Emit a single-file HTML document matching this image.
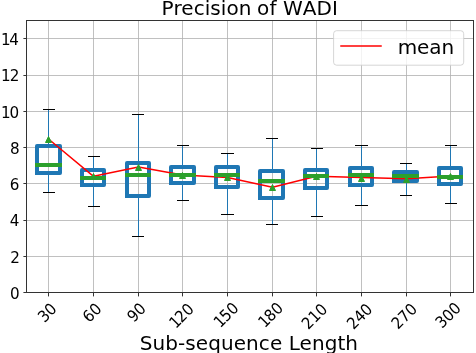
<!DOCTYPE html><html><head><meta charset="utf-8"><title>Precision of WADI</title><style>html,body{margin:0;padding:0;background:#fff}body{width:476px;height:353px;overflow:hidden}</style></head><body><svg width="476" height="353" viewBox="0 0 476 353" style="display:block" font-family="DejaVu Sans, Liberation Sans, sans-serif">
<rect width="476" height="353" fill="#fff"/>
<g stroke="#b0b0b0" stroke-opacity="0.8" stroke-width="1" shape-rendering="crispEdges">
<line x1="48.5" y1="20.5" x2="48.5" y2="292.5"/>
<line x1="93.5" y1="20.5" x2="93.5" y2="292.5"/>
<line x1="138.5" y1="20.5" x2="138.5" y2="292.5"/>
<line x1="182.5" y1="20.5" x2="182.5" y2="292.5"/>
<line x1="227.5" y1="20.5" x2="227.5" y2="292.5"/>
<line x1="272.5" y1="20.5" x2="272.5" y2="292.5"/>
<line x1="316.5" y1="20.5" x2="316.5" y2="292.5"/>
<line x1="361.5" y1="20.5" x2="361.5" y2="292.5"/>
<line x1="406.5" y1="20.5" x2="406.5" y2="292.5"/>
<line x1="450.5" y1="20.5" x2="450.5" y2="292.5"/>
<line x1="26.5" y1="292.5" x2="473.5" y2="292.5"/>
<line x1="26.5" y1="256.5" x2="473.5" y2="256.5"/>
<line x1="26.5" y1="220.5" x2="473.5" y2="220.5"/>
<line x1="26.5" y1="183.5" x2="473.5" y2="183.5"/>
<line x1="26.5" y1="147.5" x2="473.5" y2="147.5"/>
<line x1="26.5" y1="111.5" x2="473.5" y2="111.5"/>
<line x1="26.5" y1="75.5" x2="473.5" y2="75.5"/>
<line x1="26.5" y1="38.5" x2="473.5" y2="38.5"/>
</g>
<g fill="none" stroke="#1f77b4" stroke-width="4" stroke-linejoin="round" stroke-linecap="square">
<path d="M37 173H60V146H37V173"/>
<path d="M82 185H104V170H82V185"/>
<path d="M127 196H149V163H127V196"/>
<path d="M171 183H194V167H171V183"/>
<path d="M216 187H238V167H216V187"/>
<path d="M260 198H283V171H260V198"/>
<path d="M305 188H327V170H305V188"/>
<path d="M350 185H372V168H350V185"/>
<path d="M394 181H417V172H394V181"/>
<path d="M439 184H461V168H439V184"/>
</g>
<g stroke="#1f77b4" stroke-width="1" shape-rendering="crispEdges">
<line x1="48.5" y1="109.5" x2="48.5" y2="146"/>
<line x1="48.5" y1="173" x2="48.5" y2="192.5"/>
<line x1="93.5" y1="156.5" x2="93.5" y2="170"/>
<line x1="93.5" y1="185" x2="93.5" y2="206.5"/>
<line x1="138.5" y1="114.5" x2="138.5" y2="163"/>
<line x1="138.5" y1="196" x2="138.5" y2="236.5"/>
<line x1="182.5" y1="145.5" x2="182.5" y2="167"/>
<line x1="182.5" y1="183" x2="182.5" y2="200.5"/>
<line x1="227.5" y1="153.5" x2="227.5" y2="167"/>
<line x1="227.5" y1="187" x2="227.5" y2="214.5"/>
<line x1="272.5" y1="138.5" x2="272.5" y2="171"/>
<line x1="272.5" y1="198" x2="272.5" y2="224.5"/>
<line x1="316.5" y1="148.5" x2="316.5" y2="170"/>
<line x1="316.5" y1="188" x2="316.5" y2="216.5"/>
<line x1="361.5" y1="145.5" x2="361.5" y2="168"/>
<line x1="361.5" y1="185" x2="361.5" y2="205.5"/>
<line x1="406.5" y1="163.5" x2="406.5" y2="172"/>
<line x1="406.5" y1="181" x2="406.5" y2="195.5"/>
<line x1="450.5" y1="145.5" x2="450.5" y2="168"/>
<line x1="450.5" y1="184" x2="450.5" y2="203.5"/>
</g>
<g stroke="#000" stroke-width="1" shape-rendering="crispEdges">
<line x1="43" y1="109.5" x2="55" y2="109.5"/>
<line x1="43" y1="192.5" x2="55" y2="192.5"/>
<line x1="88" y1="156.5" x2="100" y2="156.5"/>
<line x1="88" y1="206.5" x2="100" y2="206.5"/>
<line x1="132" y1="114.5" x2="144" y2="114.5"/>
<line x1="132" y1="236.5" x2="144" y2="236.5"/>
<line x1="177" y1="145.5" x2="189" y2="145.5"/>
<line x1="177" y1="200.5" x2="189" y2="200.5"/>
<line x1="221" y1="153.5" x2="234" y2="153.5"/>
<line x1="221" y1="214.5" x2="234" y2="214.5"/>
<line x1="266" y1="138.5" x2="278" y2="138.5"/>
<line x1="266" y1="224.5" x2="278" y2="224.5"/>
<line x1="311" y1="148.5" x2="323" y2="148.5"/>
<line x1="311" y1="216.5" x2="323" y2="216.5"/>
<line x1="355" y1="145.5" x2="368" y2="145.5"/>
<line x1="355" y1="205.5" x2="368" y2="205.5"/>
<line x1="400" y1="163.5" x2="412" y2="163.5"/>
<line x1="400" y1="195.5" x2="412" y2="195.5"/>
<line x1="445" y1="145.5" x2="457" y2="145.5"/>
<line x1="445" y1="203.5" x2="457" y2="203.5"/>
</g>
<polyline points="48.5,139.0 93.5,176.3 138.5,167.0 182.5,174.9 227.5,177.4 272.5,187.2 316.5,176.3 361.5,177.6 406.5,178.8 450.5,176.0" fill="none" stroke="#ff0000" stroke-width="1.5" stroke-linejoin="round" stroke-linecap="square"/>
<g stroke="#2ca02c" stroke-width="4" stroke-linecap="square">
<line x1="37" y1="165" x2="60" y2="165"/>
<line x1="82" y1="178" x2="104" y2="178"/>
<line x1="127" y1="175" x2="149" y2="175"/>
<line x1="171" y1="175" x2="194" y2="175"/>
<line x1="216" y1="175" x2="238" y2="175"/>
<line x1="260" y1="181" x2="283" y2="181"/>
<line x1="305" y1="176" x2="327" y2="176"/>
<line x1="350" y1="175" x2="372" y2="175"/>
<line x1="394" y1="176" x2="417" y2="176"/>
<line x1="439" y1="177" x2="461" y2="177"/>
</g>
<g fill="#2ca02c" stroke="#2ca02c" stroke-width="1" stroke-linejoin="miter">
<path d="M48.5 136.5L45.5 142.5H51.5Z"/>
<path d="M93.5 173.5L90.5 179.5H96.5Z"/>
<path d="M138.5 164.5L135.5 170.5H141.5Z"/>
<path d="M182.5 172.5L179.5 178.5H185.5Z"/>
<path d="M227.5 174.5L224.5 180.5H230.5Z"/>
<path d="M272.5 184.5L269.5 190.5H275.5Z"/>
<path d="M316.5 173.5L313.5 179.5H319.5Z"/>
<path d="M361.5 175.5L358.5 181.5H364.5Z"/>
<path d="M406.5 176.5L403.5 182.5H409.5Z"/>
<path d="M450.5 173.5L447.5 179.5H453.5Z"/>
</g>
<rect x="26.5" y="20.5" width="447.0" height="272.0" fill="none" stroke="#333" stroke-width="1" shape-rendering="crispEdges"/>
<g stroke="#333" stroke-width="1" shape-rendering="crispEdges">
<rect x="48" y="293.0" width="1" height="3.4" fill="#333" stroke="none" shape-rendering="geometricPrecision"/>
<rect x="93" y="293.0" width="1" height="3.4" fill="#333" stroke="none" shape-rendering="geometricPrecision"/>
<rect x="138" y="293.0" width="1" height="3.4" fill="#333" stroke="none" shape-rendering="geometricPrecision"/>
<rect x="182" y="293.0" width="1" height="3.4" fill="#333" stroke="none" shape-rendering="geometricPrecision"/>
<rect x="227" y="293.0" width="1" height="3.4" fill="#333" stroke="none" shape-rendering="geometricPrecision"/>
<rect x="272" y="293.0" width="1" height="3.4" fill="#333" stroke="none" shape-rendering="geometricPrecision"/>
<rect x="316" y="293.0" width="1" height="3.4" fill="#333" stroke="none" shape-rendering="geometricPrecision"/>
<rect x="361" y="293.0" width="1" height="3.4" fill="#333" stroke="none" shape-rendering="geometricPrecision"/>
<rect x="406" y="293.0" width="1" height="3.4" fill="#333" stroke="none" shape-rendering="geometricPrecision"/>
<rect x="450" y="293.0" width="1" height="3.4" fill="#333" stroke="none" shape-rendering="geometricPrecision"/>
<rect x="23.4" y="292" width="2.6" height="1" fill="#333" stroke="none" shape-rendering="geometricPrecision"/>
<rect x="23.4" y="256" width="2.6" height="1" fill="#333" stroke="none" shape-rendering="geometricPrecision"/>
<rect x="23.4" y="220" width="2.6" height="1" fill="#333" stroke="none" shape-rendering="geometricPrecision"/>
<rect x="23.4" y="183" width="2.6" height="1" fill="#333" stroke="none" shape-rendering="geometricPrecision"/>
<rect x="23.4" y="147" width="2.6" height="1" fill="#333" stroke="none" shape-rendering="geometricPrecision"/>
<rect x="23.4" y="111" width="2.6" height="1" fill="#333" stroke="none" shape-rendering="geometricPrecision"/>
<rect x="23.4" y="75" width="2.6" height="1" fill="#333" stroke="none" shape-rendering="geometricPrecision"/>
<rect x="23.4" y="38" width="2.6" height="1" fill="#333" stroke="none" shape-rendering="geometricPrecision"/>
</g>
<g font-size="16" fill="#000">
<text transform="translate(0,298.75) scale(0.95,1)" x="10.549">0</text>
<text transform="translate(0,263.43) scale(0.95,1)" x="10.760">2</text>
<text transform="translate(0,226.22) scale(0.95,1)" x="10.286">4</text>
<text transform="translate(0,189.95) scale(0.95,1)" x="10.391">6</text>
<text transform="translate(0,153.68) scale(0.95,1)" x="10.444">8</text>
<text transform="translate(0,118.32) scale(0.95,1)" x="0.939 10.076">10</text>
<text transform="translate(0,81.15) scale(0.95,1)" x="0.939 10.234">12</text>
<text transform="translate(0,44.88) scale(0.95,1)" x="0.939 9.760">14</text>
</g>
<g font-size="16" fill="#000">
<text transform="translate(44.40,323.30) rotate(-45) scale(0.93,1)">30</text>
<text transform="translate(89.34,323.30) rotate(-45) scale(0.93,1)">60</text>
<text transform="translate(133.68,322.90) rotate(-45) scale(0.93,1)">90</text>
<text transform="translate(174.92,330.07) rotate(-45) scale(0.93,1)" x="1.1 10.1875">120</text>
<text transform="translate(219.56,329.17) rotate(-45) scale(0.93,1)" x="1.1 10.1875">150</text>
<text transform="translate(264.00,329.17) rotate(-45) scale(0.93,1)" x="1.1 10.1875">180</text>
<text transform="translate(308.34,330.27) rotate(-45) scale(0.93,1)">210</text>
<text transform="translate(353.48,330.27) rotate(-45) scale(0.93,1)">240</text>
<text transform="translate(398.12,330.07) rotate(-45) scale(0.93,1)">270</text>
<text transform="translate(441.96,329.07) rotate(-45) scale(0.93,1)">300</text>
</g>
<text x="161.60 173.39 181.26 193.65 204.72 210.36 220.86 226.49 238.82 251.30 257.05 269.38 276.50 282.90 302.65 316.41 331.89" y="15.1" font-size="20">Precision of WADI</text>
<text x="139.8" y="349.6" font-size="20" textLength="218.2" lengthAdjust="spacing">Sub-sequence Length</text>
<rect x="333.6" y="30.7" width="130.1" height="34.5" rx="3" ry="3" fill="#fff" fill-opacity="0.8" stroke="#ccc" stroke-opacity="0.8" stroke-width="1"/>
<line x1="341" y1="46" x2="381" y2="46" stroke="#f00" stroke-width="1.5" stroke-linecap="square"/>
<text x="397.85 416.95" y="54" font-size="20">mean</text>
</svg></body></html>
